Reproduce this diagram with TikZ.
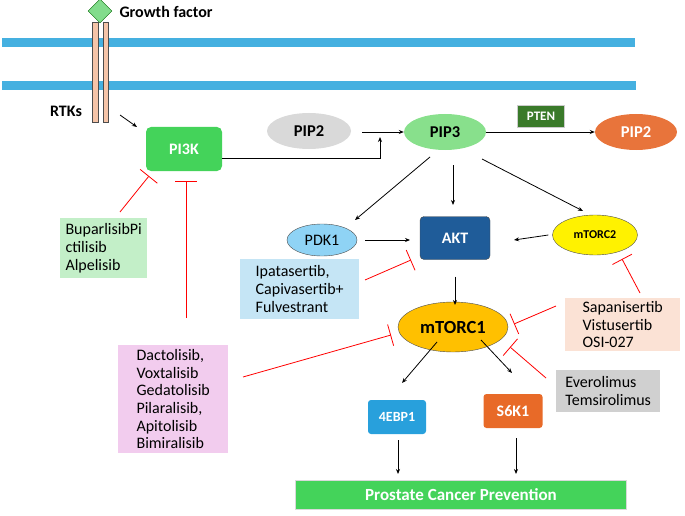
\documentclass[tikz,border=0pt]{standalone}
\usepackage{fontspec}
\setmainfont{Carlito}
\usetikzlibrary{arrows.meta,shapes.geometric}
\definecolor{memb}{HTML}{45B0E0}
\definecolor{rod}{HTML}{F5C4A8}
\tikzset{x=1pt,y=-1pt,
 act/.style={-{Stealth[length=5pt,width=4pt]},thick},
 inh/.style={-{Bar[width=22pt]},red,thick},
 dbox/.style={anchor=north west,align=left,font=\fontsize{16}{17.7}\selectfont,inner sep=6pt},
 wlab/.style={text=white,font=\bfseries\fontsize{16}{18}\selectfont},
 ell/.style={ellipse,draw=#1!70!black,inner sep=0pt,font=\bfseries\fontsize{16.5}{18}\selectfont}}
\begin{document}
\begin{tikzpicture}
\useasboundingbox (0,0) rectangle (685,516);
\fill[memb] (2,38) rectangle (635,47);
\fill[memb] (2,81) rectangle (636,90);
\draw[fill=rod,draw=black!70] (92,22) rectangle (98,122);
\draw[fill=rod,draw=black!70] (103,22) rectangle (108,122);
\node[diamond,fill={rgb,255:red,130;green,220;blue,140},draw=green!40!black,minimum size=24pt,inner sep=0pt] (gf) at (100,11) {};
\node[anchor=west,font=\bfseries\fontsize{16}{18}\selectfont] (gft) at (116,12) {Growth factor};
\node[font=\bfseries\fontsize{16}{18}\selectfont] (rtk) at (66,111) {RTKs};
\coordinate (ra) at (120,115);
\node[rounded corners=5pt,fill={rgb,255:red,68;green,211;blue,90},minimum width=76pt,minimum height=44pt,wlab] (pi3k) at (184,149) {PI3K};
\draw[act] (ra) -- (137,127);
\node[ell=gray,fill=black!15,draw=none,minimum width=84pt,minimum height=36pt] (pip2a) at (309,131) {PIP2};
\node[ell=green,fill={rgb,255:red,136;green,224;blue,140},draw=none,minimum width=82pt,minimum height=36pt] (pip3) at (445,132) {PIP3};
\node[ell=orange,fill={rgb,255:red,232;green,116;blue,59},draw=none,text=white,minimum width=82pt,minimum height=36pt] (pip2b) at (636,132) {PIP2};
\node[fill={rgb,255:red,58;green,122;blue,42},draw=black!20,wlab,font=\bfseries\fontsize{13}{14}\selectfont,minimum width=47pt,minimum height=22pt] (pten) at (541,116) {PTEN};
\coordinate (a1) at (362,132);
\draw[act] (a1) -- (pip3.west);
\draw[act] (pi3k.east |- 0,158) -- (380,158) -- (380,137);
\draw[act] (pip3.east) -- (pip2b.west);
\node[rounded corners=4pt,fill={rgb,255:red,31;green,92;blue,153},draw=black!70,wlab,minimum width=70pt,minimum height=43pt] (akt) at (455,238) {AKT};
\node[ell=cyan,fill={rgb,255:red,143;green,211;blue,245},draw=black!70,minimum width=70pt,minimum height=32pt,font=\fontsize{16}{18}\selectfont] (pdk1) at (322,240) {PDK1};
\node[ell=yellow,fill=yellow,draw=black!70,minimum width=85pt,minimum height=40pt,font=\bfseries\fontsize{12}{14}\selectfont] (mt2) at (595,235) {mTORC2};
\node[ell=orange,fill={rgb,255:red,255;green,192;blue,0},draw=black!70,minimum width=110pt,minimum height=50pt,font=\bfseries\fontsize{18.5}{20}\selectfont] (mt1) at (453,327) {mTORC1};
\draw[act] (430,157) -- (355,220);
\draw[act] (453,165) -- (453,205);
\draw[act] (482,159) -- (583,211);
\draw[act] (pdk1.east) ++(8,0) -- (410,240);
\draw[act] (mt2.west) ++(-4,0) -- (514,240);
\draw[act] (akt.south) ++(0,17) -- (455,305);
\node[rounded corners=3pt,fill={rgb,255:red,40;green,160;blue,220},wlab,font=\bfseries\fontsize{14}{15}\selectfont,minimum width=58pt,minimum height=34pt] (ebp) at (397,417) {4EBP1};
\node[rounded corners=3pt,fill={rgb,255:red,232;green,106;blue,40},wlab,minimum width=59pt,minimum height=34pt] (s6k) at (513,411) {S6K1};
\draw[act] (437,342) -- (402,383);
\draw[act] (481,340) -- (512,373);
\node[fill={rgb,255:red,68;green,211;blue,90},draw=black!15,wlab,font=\bfseries\fontsize{17}{19}\selectfont,minimum width=331pt,minimum height=29pt] (pcp) at (461,495) {Prostate Cancer Prevention};
\draw[act] (398,440) -- (398,474);
\draw[act] (516,438) -- (516,474);
% drug boxes
\node[dbox,fill={rgb,255:red,195;green,239;blue,200},minimum width=87pt,minimum height=60pt,inner sep=4pt] (d1) at (60,218) {BuparlisibPi\\ctilisib\\Alpelisib};
\node[dbox,fill={rgb,255:red,197;green,229;blue,245},minimum width=119pt,minimum height=60pt,inner sep=4pt] (d2) at (240,259) {Ipatasertib,\\Capivasertib+\\Fulvestrant};
\node[dbox,fill={rgb,255:red,242;green,204;blue,238},minimum width=110pt,minimum height=90pt,inner sep=4pt] (d3) at (118,345) {Dactolisib,\\Voxtalisib\\Gedatolisib\\Pilaralisib,\\Apitolisib\\Bimiralisib};
\node[dbox,fill={rgb,255:red,251;green,226;blue,213},minimum width=115pt,minimum height=48pt,inner sep=3pt] (d4) at (565,298) {Sapanisertib\\Vistusertib\\OSI-027};
\node[dbox,fill={rgb,255:red,208;green,208;blue,208},minimum width=104pt,minimum height=42pt,inner sep=3pt] (d5) at (556,370) {Everolimus\\Temsirolimus};
\coordinate (i1) at (120,212); \draw[inh] (i1) -- (149,176);
\coordinate (i2) at (186,318); \draw[inh] (i2) -- (186,181);
\coordinate (i3) at (365,280); \draw[inh] (i3) -- (411,260);
\coordinate (i4) at (243,377); \draw[inh] (i4) -- (391,335);
\coordinate (i5) at (640,293); \draw[inh] (i5) -- (622,259);
\coordinate (i6) at (556,306); \draw[inh] (i6) -- (514,324);
\coordinate (i7) at (546,378); \draw[inh] (i7) -- (510,347);
\end{tikzpicture}
\end{document}
